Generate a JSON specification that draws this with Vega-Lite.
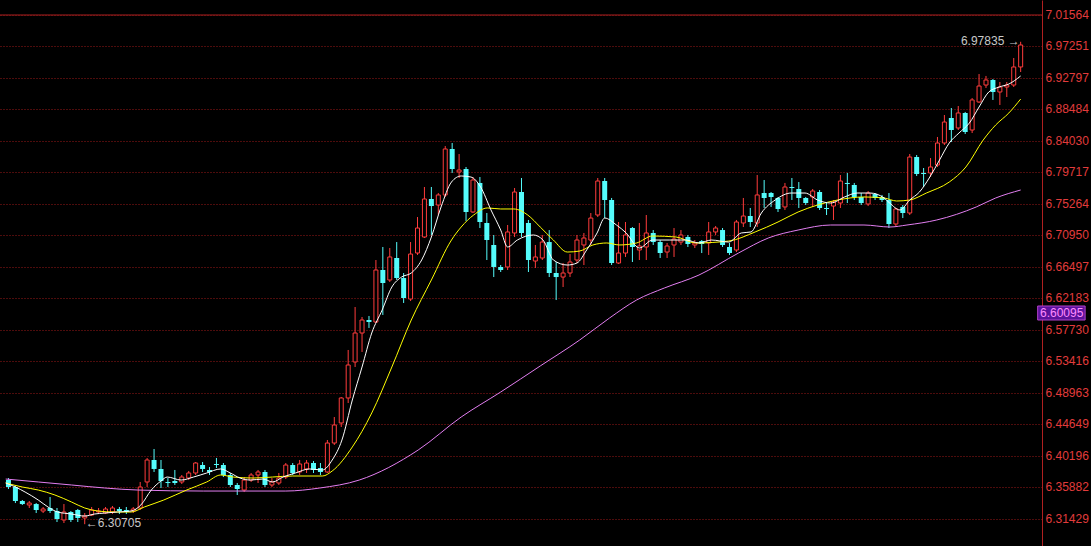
{
"$schema": "https://vega.github.io/schema/vega-lite/v6.json",
"width": 1042, "height": 546,
"autosize": {"type": "none"},
"padding": {"left": 0, "top": 0, "right": 49, "bottom": 0},
"background": "#000000",
"config": {"view": {"stroke": null}},
"datasets": {
"candles": [
{"i":0,"o":6.3685,"h":6.3713,"l":6.3560,"c":6.3588},
{"i":1,"o":6.3588,"h":6.3602,"l":6.3365,"c":6.3393},
{"i":2,"o":6.3393,"h":6.3407,"l":6.3338,"c":6.3351},
{"i":3,"o":6.3338,"h":6.3393,"l":6.3296,"c":6.3365},
{"i":4,"o":6.3351,"h":6.3365,"l":6.3226,"c":6.3268},
{"i":5,"o":6.3254,"h":6.3310,"l":6.3226,"c":6.3282},
{"i":6,"o":6.3296,"h":6.3449,"l":6.3226,"c":6.3254},
{"i":7,"o":6.3254,"h":6.3296,"l":6.3101,"c":6.3143},
{"i":8,"o":6.3129,"h":6.3351,"l":6.3087,"c":6.3240},
{"i":9,"o":6.3240,"h":6.3254,"l":6.3101,"c":6.3129},
{"i":10,"o":6.3268,"h":6.3282,"l":6.3101,"c":6.3157},
{"i":11,"o":6.3157,"h":6.3226,"l":6.30705,"c":6.3184},
{"i":12,"o":6.3198,"h":6.3310,"l":6.3184,"c":6.3268},
{"i":13,"o":6.3240,"h":6.3296,"l":6.3212,"c":6.3254},
{"i":14,"o":6.3226,"h":6.3310,"l":6.3212,"c":6.3282},
{"i":15,"o":6.3240,"h":6.3324,"l":6.3212,"c":6.3296},
{"i":16,"o":6.3282,"h":6.3310,"l":6.3212,"c":6.3254},
{"i":17,"o":6.3268,"h":6.3310,"l":6.3212,"c":6.3240},
{"i":18,"o":6.3254,"h":6.3310,"l":6.3226,"c":6.3282},
{"i":19,"o":6.3296,"h":6.3658,"l":6.3268,"c":6.3588},
{"i":20,"o":6.3658,"h":6.3992,"l":6.3588,"c":6.3964},
{"i":21,"o":6.3964,"h":6.4117,"l":6.3797,"c":6.3839},
{"i":22,"o":6.3839,"h":6.3964,"l":6.3574,"c":6.3672},
{"i":23,"o":6.3658,"h":6.3713,"l":6.3588,"c":6.3644},
{"i":24,"o":6.3672,"h":6.3825,"l":6.3616,"c":6.3644},
{"i":25,"o":6.3658,"h":6.3755,"l":6.3630,"c":6.3727},
{"i":26,"o":6.3713,"h":6.3811,"l":6.3685,"c":6.3783},
{"i":27,"o":6.3783,"h":6.3936,"l":6.3755,"c":6.3922},
{"i":28,"o":6.3894,"h":6.3936,"l":6.3797,"c":6.3839},
{"i":29,"o":6.3825,"h":6.3866,"l":6.3755,"c":6.3797},
{"i":30,"o":6.3908,"h":6.3992,"l":6.3852,"c":6.3894},
{"i":31,"o":6.3894,"h":6.3922,"l":6.3727,"c":6.3755},
{"i":32,"o":6.3755,"h":6.3783,"l":6.3588,"c":6.3616},
{"i":33,"o":6.3616,"h":6.3644,"l":6.3477,"c":6.3560},
{"i":34,"o":6.3546,"h":6.3727,"l":6.3518,"c":6.3685},
{"i":35,"o":6.3685,"h":6.3783,"l":6.3658,"c":6.3755},
{"i":36,"o":6.3755,"h":6.3825,"l":6.3644,"c":6.3797},
{"i":37,"o":6.3797,"h":6.3825,"l":6.3588,"c":6.3616},
{"i":38,"o":6.3616,"h":6.3713,"l":6.3588,"c":6.3658},
{"i":39,"o":6.3644,"h":6.3783,"l":6.3616,"c":6.3713},
{"i":40,"o":6.3727,"h":6.3922,"l":6.3699,"c":6.3894},
{"i":41,"o":6.3894,"h":6.3922,"l":6.3755,"c":6.3783},
{"i":42,"o":6.3797,"h":6.3964,"l":6.3755,"c":6.3908},
{"i":43,"o":6.3839,"h":6.3964,"l":6.3783,"c":6.3922},
{"i":44,"o":6.3922,"h":6.3950,"l":6.3783,"c":6.3825},
{"i":45,"o":6.3852,"h":6.3922,"l":6.3755,"c":6.3797},
{"i":46,"o":6.3797,"h":6.4242,"l":6.3783,"c":6.4200},
{"i":47,"o":6.4200,"h":6.4562,"l":6.4173,"c":6.4451},
{"i":48,"o":6.4479,"h":6.4840,"l":6.4423,"c":6.4827},
{"i":49,"o":6.4827,"h":6.5495,"l":6.4757,"c":6.5286},
{"i":50,"o":6.5328,"h":6.6093,"l":6.5258,"c":6.5731},
{"i":51,"o":6.5731,"h":6.5954,"l":6.5467,"c":6.5912},
{"i":52,"o":6.5912,"h":6.5968,"l":6.5801,"c":6.5884},
{"i":53,"o":6.5884,"h":6.6747,"l":6.5870,"c":6.6608},
{"i":54,"o":6.6608,"h":6.6928,"l":6.5982,"c":6.6427},
{"i":55,"o":6.6469,"h":6.6914,"l":6.6441,"c":6.6789},
{"i":56,"o":6.6775,"h":6.6997,"l":6.6469,"c":6.6496},
{"i":57,"o":6.6496,"h":6.6566,"l":6.6149,"c":6.6218},
{"i":58,"o":6.6204,"h":6.6997,"l":6.6176,"c":6.6830},
{"i":59,"o":6.6844,"h":6.7345,"l":6.6817,"c":6.7192},
{"i":60,"o":6.7067,"h":6.7763,"l":6.7053,"c":6.7596},
{"i":61,"o":6.7596,"h":6.7763,"l":6.7095,"c":6.7498},
{"i":62,"o":6.7512,"h":6.7679,"l":6.7373,"c":6.7652},
{"i":63,"o":6.7652,"h":6.8333,"l":6.7624,"c":6.8292},
{"i":64,"o":6.8292,"h":6.8375,"l":6.7958,"c":6.8013},
{"i":65,"o":6.7972,"h":6.8222,"l":6.7888,"c":6.7999},
{"i":66,"o":6.8013,"h":6.8041,"l":6.7290,"c":6.7415},
{"i":67,"o":6.7415,"h":6.7902,"l":6.7401,"c":6.7860},
{"i":68,"o":6.7819,"h":6.7902,"l":6.7192,"c":6.7276},
{"i":69,"o":6.7262,"h":6.7401,"l":6.6747,"c":6.7025},
{"i":70,"o":6.6956,"h":6.7095,"l":6.6510,"c":6.6650},
{"i":71,"o":6.6650,"h":6.6677,"l":6.6580,"c":6.6608},
{"i":72,"o":6.6650,"h":6.7234,"l":6.6608,"c":6.7137},
{"i":73,"o":6.7123,"h":6.7749,"l":6.7067,"c":6.7693},
{"i":74,"o":6.7693,"h":6.7888,"l":6.7067,"c":6.7123},
{"i":75,"o":6.7262,"h":6.7304,"l":6.6580,"c":6.6747},
{"i":76,"o":6.6733,"h":6.6956,"l":6.6636,"c":6.6789},
{"i":77,"o":6.6775,"h":6.7095,"l":6.6747,"c":6.6997},
{"i":78,"o":6.6997,"h":6.7164,"l":6.6510,"c":6.6566},
{"i":79,"o":6.6566,"h":6.6719,"l":6.6190,"c":6.6510},
{"i":80,"o":6.6510,"h":6.6705,"l":6.6371,"c":6.6566},
{"i":81,"o":6.6566,"h":6.6830,"l":6.6510,"c":6.6719},
{"i":82,"o":6.6747,"h":6.7095,"l":6.6705,"c":6.7025},
{"i":83,"o":6.6956,"h":6.7123,"l":6.6677,"c":6.7053},
{"i":84,"o":6.7025,"h":6.7401,"l":6.6956,"c":6.7331},
{"i":85,"o":6.7373,"h":6.7888,"l":6.7345,"c":6.7846},
{"i":86,"o":6.7846,"h":6.7888,"l":6.7331,"c":6.7582},
{"i":87,"o":6.7582,"h":6.7610,"l":6.6677,"c":6.6705},
{"i":88,"o":6.6705,"h":6.7276,"l":6.6691,"c":6.6844},
{"i":89,"o":6.6844,"h":6.7276,"l":6.6789,"c":6.7095},
{"i":90,"o":6.7192,"h":6.7206,"l":6.6719,"c":6.6928},
{"i":91,"o":6.6886,"h":6.7262,"l":6.6747,"c":6.6942},
{"i":92,"o":6.6928,"h":6.7373,"l":6.6747,"c":6.7123},
{"i":93,"o":6.7123,"h":6.7164,"l":6.6956,"c":6.6997},
{"i":94,"o":6.6997,"h":6.7025,"l":6.6775,"c":6.6844},
{"i":95,"o":6.6858,"h":6.6984,"l":6.6775,"c":6.6942},
{"i":96,"o":6.6956,"h":6.7192,"l":6.6789,"c":6.7039},
{"i":97,"o":6.6997,"h":6.7164,"l":6.6956,"c":6.7095},
{"i":98,"o":6.7067,"h":6.7095,"l":6.6928,"c":6.6970},
{"i":99,"o":6.6956,"h":6.7025,"l":6.6914,"c":6.6984},
{"i":100,"o":6.7011,"h":6.7025,"l":6.6844,"c":6.6970},
{"i":101,"o":6.6984,"h":6.7276,"l":6.6817,"c":6.7137},
{"i":102,"o":6.7137,"h":6.7220,"l":6.7095,"c":6.7192},
{"i":103,"o":6.7164,"h":6.7192,"l":6.6928,"c":6.6956},
{"i":104,"o":6.6928,"h":6.6984,"l":6.6817,"c":6.6844},
{"i":105,"o":6.6886,"h":6.7304,"l":6.6858,"c":6.7276},
{"i":106,"o":6.7262,"h":6.7610,"l":6.7206,"c":6.7359},
{"i":107,"o":6.7359,"h":6.7471,"l":6.7206,"c":6.7276},
{"i":108,"o":6.7262,"h":6.7930,"l":6.7206,"c":6.7652},
{"i":109,"o":6.7679,"h":6.7860,"l":6.7471,"c":6.7610},
{"i":110,"o":6.7679,"h":6.7693,"l":6.7485,"c":6.7624},
{"i":111,"o":6.7610,"h":6.7624,"l":6.7415,"c":6.7457},
{"i":112,"o":6.7485,"h":6.7819,"l":6.7443,"c":6.7763},
{"i":113,"o":6.7763,"h":6.7888,"l":6.7582,"c":6.7749},
{"i":114,"o":6.7735,"h":6.7832,"l":6.7471,"c":6.7610},
{"i":115,"o":6.7610,"h":6.7624,"l":6.7512,"c":6.7540},
{"i":116,"o":6.7624,"h":6.7735,"l":6.7485,"c":6.7707},
{"i":117,"o":6.7693,"h":6.7721,"l":6.7443,"c":6.7471},
{"i":118,"o":6.7471,"h":6.7540,"l":6.7373,"c":6.7457},
{"i":119,"o":6.7498,"h":6.7582,"l":6.7304,"c":6.7554},
{"i":120,"o":6.7540,"h":6.7930,"l":6.7471,"c":6.7846},
{"i":121,"o":6.7819,"h":6.7958,"l":6.7540,"c":6.7805},
{"i":122,"o":6.7791,"h":6.7819,"l":6.7582,"c":6.7624},
{"i":123,"o":6.7624,"h":6.7679,"l":6.7512,"c":6.7540},
{"i":124,"o":6.7526,"h":6.7707,"l":6.7498,"c":6.7679},
{"i":125,"o":6.7665,"h":6.7679,"l":6.7582,"c":6.7610},
{"i":126,"o":6.7624,"h":6.7652,"l":6.7554,"c":6.7582},
{"i":127,"o":6.7582,"h":6.7679,"l":6.7192,"c":6.7248},
{"i":128,"o":6.7248,"h":6.7471,"l":6.7220,"c":6.7457},
{"i":129,"o":6.7485,"h":6.7512,"l":6.7331,"c":6.7401},
{"i":130,"o":6.7401,"h":6.8222,"l":6.7373,"c":6.8180},
{"i":131,"o":6.8180,"h":6.8208,"l":6.7916,"c":6.7944},
{"i":132,"o":6.7958,"h":6.8027,"l":6.7763,"c":6.7944},
{"i":133,"o":6.7958,"h":6.8166,"l":6.7902,"c":6.8041},
{"i":134,"o":6.8069,"h":6.8459,"l":6.8041,"c":6.8375},
{"i":135,"o":6.8375,"h":6.8765,"l":6.8347,"c":6.8667},
{"i":136,"o":6.8723,"h":6.8862,"l":6.8389,"c":6.8556},
{"i":137,"o":6.8584,"h":6.8890,"l":6.8556,"c":6.8793},
{"i":138,"o":6.8793,"h":6.8807,"l":6.8500,"c":6.8528},
{"i":139,"o":6.8556,"h":6.9001,"l":6.8514,"c":6.8974},
{"i":140,"o":6.8946,"h":6.9335,"l":6.8932,"c":6.9168},
{"i":141,"o":6.9182,"h":6.9308,"l":6.9141,"c":6.9252},
{"i":142,"o":6.9252,"h":6.9266,"l":6.8974,"c":6.9085},
{"i":143,"o":6.9085,"h":6.9224,"l":6.8904,"c":6.9154},
{"i":144,"o":6.9154,"h":6.9224,"l":6.9015,"c":6.9182},
{"i":145,"o":6.9182,"h":6.9558,"l":6.9154,"c":6.9433},
{"i":146,"o":6.9433,"h":6.97835,"l":6.9363,"c":6.9739}
],
"ma5": [
{"i":-0.4,"v":6.3644},{"i":1.0,"v":6.3588},{"i":2.4,"v":6.3518},{"i":4.3,"v":6.3407},{"i":5.7,"v":6.3310},{"i":7.1,"v":6.3240},{"i":9.1,"v":6.3212},{"i":11.0,"v":6.3184},{"i":12.4,"v":6.3212},{"i":13.9,"v":6.3226},{"i":15.7,"v":6.3240},{"i":17.7,"v":6.3254},{"i":19.1,"v":6.3338},{"i":20.6,"v":6.3546},{"i":22.0,"v":6.3672},{"i":22.9,"v":6.3727},{"i":24.9,"v":6.3685},{"i":26.7,"v":6.3727},{"i":28.6,"v":6.3783},{"i":30.6,"v":6.3839},{"i":32.0,"v":6.3783},{"i":33.4,"v":6.3713},{"i":34.9,"v":6.3685},{"i":36.7,"v":6.3699},{"i":38.1,"v":6.3658},{"i":39.6,"v":6.3727},{"i":41.4,"v":6.3783},{"i":43.4,"v":6.3839},{"i":45.3,"v":6.3825},{"i":46.7,"v":6.3964},{"i":48.1,"v":6.4242},{"i":49.6,"v":6.4799},{"i":51.0,"v":6.5258},{"i":52.4,"v":6.5731},{"i":53.9,"v":6.6051},{"i":55.3,"v":6.6371},{"i":56.7,"v":6.6510},{"i":58.1,"v":6.6566},{"i":59.6,"v":6.6747},{"i":61.0,"v":6.7067},{"i":62.4,"v":6.7485},{"i":63.9,"v":6.7832},{"i":65.3,"v":6.7916},{"i":66.7,"v":6.7902},{"i":68.1,"v":6.7763},{"i":69.6,"v":6.7443},{"i":71.0,"v":6.7164},{"i":72.0,"v":6.6928},{"i":73.4,"v":6.7025},{"i":75.7,"v":6.7095},{"i":77.1,"v":6.7025},{"i":78.6,"v":6.6747},{"i":80.6,"v":6.6677},{"i":82.0,"v":6.6705},{"i":83.4,"v":6.6886},{"i":84.9,"v":6.7123},{"i":86.0,"v":6.7331},{"i":87.7,"v":6.7234},{"i":89.1,"v":6.7123},{"i":91.0,"v":6.6914},{"i":92.9,"v":6.7025},{"i":95.3,"v":6.7025},{"i":97.7,"v":6.7025},{"i":99.6,"v":6.6984},{"i":101.4,"v":6.7025},{"i":103.9,"v":6.6997},{"i":105.7,"v":6.7123},{"i":107.1,"v":6.7137},{"i":108.6,"v":6.7401},{"i":110.6,"v":6.7582},{"i":112.9,"v":6.7679},{"i":114.9,"v":6.7679},{"i":116.7,"v":6.7582},{"i":118.6,"v":6.7540},{"i":120.6,"v":6.7624},{"i":122.4,"v":6.7679},{"i":124.3,"v":6.7679},{"i":126.3,"v":6.7610},{"i":127.1,"v":6.7540},{"i":128.6,"v":6.7443},{"i":130.0,"v":6.7582},{"i":131.4,"v":6.7693},{"i":132.9,"v":6.7902},{"i":134.3,"v":6.8139},{"i":135.7,"v":6.8375},{"i":137.1,"v":6.8514},{"i":138.6,"v":6.8653},{"i":140.0,"v":6.8876},{"i":141.4,"v":6.9085},{"i":142.9,"v":6.9154},{"i":144.3,"v":6.9196},{"i":146.0,"v":6.9308}
],
"ma10": [
{"i":-0.4,"v":6.3644},{"i":2.0,"v":6.3588},{"i":4.3,"v":6.3546},{"i":6.7,"v":6.3477},{"i":9.1,"v":6.3379},{"i":11.0,"v":6.3296},{"i":12.9,"v":6.3254},{"i":15.3,"v":6.3240},{"i":17.7,"v":6.3240},{"i":19.6,"v":6.3310},{"i":22.4,"v":6.3407},{"i":25.7,"v":6.3546},{"i":28.6,"v":6.3658},{"i":30.6,"v":6.3755},{"i":32.4,"v":6.3727},{"i":35.3,"v":6.3713},{"i":38.1,"v":6.3727},{"i":41.0,"v":6.3741},{"i":45.3,"v":6.3741},{"i":46.7,"v":6.3811},{"i":49.6,"v":6.4145},{"i":52.4,"v":6.4618},{"i":55.3,"v":6.5258},{"i":58.1,"v":6.5912},{"i":61.0,"v":6.6469},{"i":63.9,"v":6.7025},{"i":65.3,"v":6.7206},{"i":67.1,"v":6.7373},{"i":69.1,"v":6.7471},{"i":71.0,"v":6.7457},{"i":72.9,"v":6.7457},{"i":74.9,"v":6.7373},{"i":76.7,"v":6.7206},{"i":78.6,"v":6.7025},{"i":80.6,"v":6.6858},{"i":82.4,"v":6.6872},{"i":84.3,"v":6.6956},{"i":86.3,"v":6.6984},{"i":88.1,"v":6.6956},{"i":90.6,"v":6.6984},{"i":92.9,"v":6.7081},{"i":96.3,"v":6.7067},{"i":99.1,"v":6.6984},{"i":103.9,"v":6.7011},{"i":107.7,"v":6.7137},{"i":111.0,"v":6.7276},{"i":113.9,"v":6.7415},{"i":116.7,"v":6.7512},{"i":119.6,"v":6.7582},{"i":123.4,"v":6.7624},{"i":126.3,"v":6.7610},{"i":128.1,"v":6.7568},{"i":130.0,"v":6.7582},{"i":132.4,"v":6.7679},{"i":135.7,"v":6.7832},{"i":138.1,"v":6.8041},{"i":140.6,"v":6.8417},{"i":142.4,"v":6.8626},{"i":144.3,"v":6.8793},{"i":146.0,"v":6.8987}
],
"ma60": [
{"i":-0.4,"v":6.3699},{"i":4.3,"v":6.3658},{"i":9.1,"v":6.3616},{"i":13.9,"v":6.3574},{"i":18.6,"v":6.3546},{"i":28.1,"v":6.3532},{"i":40.0,"v":6.3532},{"i":44.9,"v":6.3574},{"i":50.6,"v":6.3685},{"i":59.1,"v":6.4103},{"i":65.3,"v":6.4562},{"i":71.0,"v":6.4910},{"i":76.7,"v":6.5272},{"i":82.4,"v":6.5634},{"i":86.7,"v":6.5940},{"i":90.6,"v":6.6190},{"i":94.6,"v":6.6357},{"i":99.6,"v":6.6538},{"i":105.3,"v":6.6844},{"i":109.6,"v":6.7053},{"i":113.9,"v":6.7164},{"i":118.6,"v":6.7234},{"i":123.4,"v":6.7234},{"i":127.1,"v":6.7206},{"i":129.6,"v":6.7234},{"i":133.9,"v":6.7304},{"i":139.6,"v":6.7485},{"i":142.4,"v":6.7610},{"i":146.0,"v":6.7721}
],
"notes": [
{"kind":"max","i":146,"p":6.97835,"t":"6.97835 →"},
{"kind":"min","i":11,"p":6.30705,"t":"←6.30705"}
],
"last": [
{"p":6.60095,"t":"6.60095"}
]
},
"layer": [
{
"data": {"name": "candles"},
"mark": {"type": "rule", "strokeWidth": 1},
"encoding": {
"x": {"field": "i", "type": "quantitative", "scale": {"domain": [-0.5, 148.357], "nice": false, "zero": false}, "axis": null},
"y": {"field": "l", "type": "quantitative", "scale": {"domain": [6.27671, 7.03651], "nice": false, "zero": false},
"axis": {"orient": "right", "title": null, "tickCount": 40, "values": [7.01564, 6.97251, 6.92797, 6.88484, 6.84030, 6.79717, 6.75264, 6.70950, 6.66497, 6.62183, 6.57730, 6.53416, 6.48963, 6.44649, 6.40196, 6.35882, 6.31429],
"format": ".5f", "grid": true, "gridColor": "#9a1818", "gridDash": [1, 2], "gridOpacity": 1, "ticks": false,
"labelColor": "#e23c3c", "labelFont": "Liberation Sans", "labelFontSize": 12, "labelPadding": 3, "labelOverlap": false, "labelFlush": false, "labelBaseline": "middle",
"domain": true, "domainColor": "#b02020", "domainWidth": 1}},
"y2": {"field": "h"},
"color": {"condition": {"test": "datum.c >= datum.o", "value": "#ff3c3c"}, "value": "#54fcfc"}
}
},
{
"data": {"name": "candles"},
"transform": [{"filter": "datum.c < datum.o"}],
"mark": {"type": "bar", "width": 5, "fill": "#54fcfc"},
"encoding": {
"x": {"field": "i", "type": "quantitative", "axis": null},
"y": {"field": "o", "type": "quantitative"},
"y2": {"field": "c"}
}
},
{
"data": {"name": "candles"},
"transform": [{"filter": "datum.c >= datum.o"}],
"mark": {"type": "bar", "width": 4, "fill": "#000000", "stroke": "#ff3c3c", "strokeWidth": 1},
"encoding": {
"x": {"field": "i", "type": "quantitative", "axis": null},
"y": {"field": "o", "type": "quantitative"},
"y2": {"field": "c"}
}
},
{
"data": {"name": "ma60"},
"mark": {"type": "line", "color": "#e27ef0", "strokeWidth": 1, "interpolate": "monotone"},
"encoding": {
"x": {"field": "i", "type": "quantitative", "axis": null},
"y": {"field": "v", "type": "quantitative"}
}
},
{
"data": {"name": "ma10"},
"mark": {"type": "line", "color": "#ffff00", "strokeWidth": 1, "interpolate": "monotone"},
"encoding": {
"x": {"field": "i", "type": "quantitative", "axis": null},
"y": {"field": "v", "type": "quantitative"}
}
},
{
"data": {"name": "ma5"},
"mark": {"type": "line", "color": "#ffffff", "strokeWidth": 1, "interpolate": "monotone"},
"encoding": {
"x": {"field": "i", "type": "quantitative", "axis": null},
"y": {"field": "v", "type": "quantitative"}
}
},
{
"data": {"values": [{"p": 7.01564}]},
"mark": {"type": "rule", "color": "#a82020", "strokeWidth": 1},
"encoding": {
"y": {"field": "p", "type": "quantitative"}
}
},
{
"data": {"name": "notes"},
"transform": [{"filter": "datum.kind == 'max'"}],
"mark": {"type": "text", "align": "right", "baseline": "middle", "dx": -1, "dy": -1, "font": "Liberation Sans", "fontSize": 12, "color": "#c8c8c8"},
"encoding": {
"x": {"field": "i", "type": "quantitative", "axis": null},
"y": {"field": "p", "type": "quantitative"},
"text": {"field": "t"}
}
},
{
"data": {"name": "notes"},
"transform": [{"filter": "datum.kind == 'min'"}],
"mark": {"type": "text", "align": "left", "baseline": "middle", "dx": 1, "dy": -1, "font": "Liberation Sans", "fontSize": 12, "color": "#c8c8c8"},
"encoding": {
"x": {"field": "i", "type": "quantitative", "axis": null},
"y": {"field": "p", "type": "quantitative"},
"text": {"field": "t"}
}
},
{
"data": {"name": "last"},
"mark": {"type": "rect", "fill": "#5c129c", "stroke": "#b040c8", "strokeWidth": 1},
"encoding": {
"x": {"datum": 148.45, "type": "quantitative", "axis": null},
"x2": {"datum": 155.3},
"y": {"datum": 6.5912, "type": "quantitative"},
"y2": {"datum": 6.6107}
}
},
{
"data": {"name": "last"},
"mark": {"type": "text", "align": "left", "baseline": "middle", "dx": 3, "font": "Liberation Sans", "fontSize": 12, "color": "#ff8cff"},
"encoding": {
"x": {"datum": 148.357, "type": "quantitative", "axis": null},
"y": {"field": "p", "type": "quantitative"},
"text": {"field": "t"}
}
}
]
}
